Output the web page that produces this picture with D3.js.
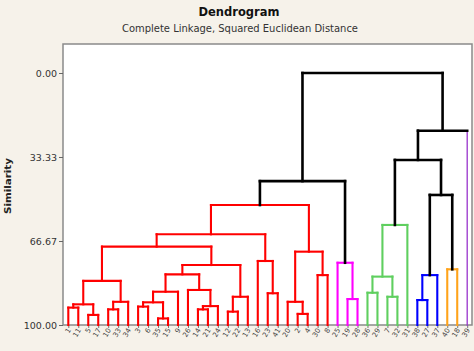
<!DOCTYPE html>
<html>
<head>
<meta charset="utf-8">
<script src="https://cdn.jsdelivr.net/npm/d3@7"></script>
<style>
  html, body { margin: 0; padding: 0; background: #f6f2ea; }
  svg { display: block; }
</style>
</head>
<body>
<div id="chart"></div>
<script>
/* ── data ─────────────────────────────────────────────────────────── */
const leafLabels = ['1','11','5','17','10','33','34','3','6','35',
                    '15','9','26','14','21','24','12','22','13','16',
                    '23','41','20','2','4','30','8','25','19','28',
                    '36','29','7','32','31','38','27','37','40','18','39'];

/* merges: [child a, child b, similarity]; ids < 41 are leaves, 41+k is merge k */
const merges = [
  [0, 1, 93.1], [2, 3, 96.0], [41, 42, 91.8], [4, 5, 93.8], [44, 6, 90.8],
  [43, 45, 82.5], [7, 8, 92.7], [9, 10, 97.4], [47, 48, 91.0], [49, 11, 86.8],
  [13, 14, 93.8], [51, 15, 92.5], [12, 52, 86.1], [50, 53, 79.9], [16, 17, 94.7],
  [55, 18, 88.8], [54, 56, 76.2], [46, 57, 68.9], [20, 21, 87.4], [19, 59, 74.6],
  [58, 60, 64.0], [23, 24, 95.6], [22, 62, 90.8], [25, 26, 80.2], [63, 64, 70.9],
  [61, 65, 52.4], [28, 29, 89.7], [27, 67, 75.3], [66, 68, 42.9], [30, 31, 87.2],
  [32, 33, 88.8], [70, 71, 80.8], [72, 34, 60.3], [35, 36, 90.1], [74, 37, 80.2],
  [38, 39, 77.9], [75, 76, 48.4], [73, 77, 34.5], [78, 40, 22.9], [69, 79, 0.0]
];

/* final clusters, in leaf order */
const clusterSizes  = [27, 3, 5, 3, 2, 1];
const clusterColors = ['#ff0000', '#ff00ff', '#5fcf5f', '#0000ff', '#ffa31a', '#9933cc'];

const yTicks = [0, 33.33, 66.67, 100];

/* ── layout ───────────────────────────────────────────────────────── */
const W = 474, H = 351;
const frame = { l: 63, t: 44, r: 472, b: 325 };

const svg = d3.select('#chart').append('svg')
  .attr('width', W).attr('height', H)
  .attr('font-family', 'DejaVu Sans, Verdana, sans-serif');

svg.append('rect').attr('width', W).attr('height', H).attr('fill', '#f6f2ea');

/* titles */
svg.append('text').attr('x', 239).attr('y', 16)
  .attr('text-anchor', 'middle').attr('font-weight', 'bold')
  .attr('font-size', 11.5).attr('fill', '#111').text('Dendrogram');
svg.append('text').attr('x', 240).attr('y', 32)
  .attr('text-anchor', 'middle').attr('font-size', 10.5)
  .attr('textLength', 236).attr('lengthAdjust', 'spacingAndGlyphs')
  .attr('fill', '#333').text('Complete Linkage, Squared Euclidean Distance');

/* plot frame */
svg.append('rect')
  .attr('x', frame.l).attr('y', frame.t)
  .attr('width', frame.r - frame.l).attr('height', frame.b - frame.t)
  .attr('fill', '#fff').attr('stroke', '#8a8a8a').attr('stroke-width', 1.5);

const n = leafLabels.length;
const x = d3.scalePoint().domain(d3.range(n)).range([68.3, 467.2]);
const y = d3.scaleLinear().domain([0, 100]).range([73, 325]);

/* y axis */
const yAxis = svg.append('g').attr('transform', `translate(${frame.l},0)`)
  .call(d3.axisLeft(y).tickValues(yTicks).tickFormat(d3.format('.2f')).tickSize(4).tickPadding(2));
yAxis.select('.domain').remove();
yAxis.selectAll('line').attr('stroke', '#666');
yAxis.selectAll('text').attr('font-size', 9.5).attr('fill', '#333')
  .attr('font-family', 'DejaVu Sans, Verdana, sans-serif');

svg.append('text')
  .attr('transform', 'translate(11,186) rotate(-90)')
  .attr('text-anchor', 'middle').attr('font-weight', 'bold')
  .attr('font-size', 9).attr('textLength', 56).attr('lengthAdjust', 'spacingAndGlyphs')
  .attr('fill', '#222').text('Similarity');

/* bottom ticks + leaf labels */
const xAxis = svg.append('g').attr('transform', `translate(0,${frame.b})`)
  .call(d3.axisBottom(x).tickSize(3).tickFormat(i => leafLabels[i]));
xAxis.select('.domain').remove();
xAxis.selectAll('line').attr('stroke', '#777');
xAxis.selectAll('text')
  .attr('font-size', 7).attr('fill', '#444')
  .attr('font-family', 'DejaVu Sans, Verdana, sans-serif')
  .attr('text-anchor', 'end')
  .attr('dy', 0).attr('y', 0)
  .attr('transform', 'translate(2.5,5) rotate(-60)');

/* ── dendrogram ───────────────────────────────────────────────────── */
/* cluster of each leaf */
const leafCluster = [];
clusterSizes.forEach((s, c) => { for (let i = 0; i < s; i++) leafCluster.push(c); });

const nodes = d3.range(n).map(i => ({ x: x(i), sim: 100, cluster: leafCluster[i], leaf: true }));
merges.forEach(([a, b, sim]) => {
  const A = nodes[a], B = nodes[b];
  nodes.push({
    a, b, sim,
    x: (A.x + B.x) / 2,
    cluster: A.cluster === B.cluster ? A.cluster : -1,
    leaf: false
  });
});

const links = svg.append('g').attr('fill', 'none').attr('stroke-linecap', 'square');
function colorOf(c) { return c < 0 ? '#000' : clusterColors[c]; }
function widthOf(c) { return c < 0 ? 2.6 : (c === 5 ? 1.3 : 2.1); }

nodes.filter(d => !d.leaf).forEach(d => {
  const yy = y(d.sim);
  [nodes[d.a], nodes[d.b]].forEach(ch => {
    /* singleton cluster keeps its colour even below a black merge */
    const c = d.cluster >= 0 ? d.cluster
            : (ch.leaf && clusterSizes[ch.cluster] === 1 ? ch.cluster : d.cluster);
    links.append('line')
      .attr('x1', ch.x).attr('x2', ch.x)
      .attr('y1', yy).attr('y2', y(ch.sim))
      .attr('stroke', colorOf(c)).attr('stroke-width', widthOf(c));
  });
  links.append('line')
    .attr('x1', nodes[d.a].x).attr('x2', nodes[d.b].x)
    .attr('y1', yy).attr('y2', yy)
    .attr('stroke', colorOf(d.cluster)).attr('stroke-width', widthOf(d.cluster));
});
</script>
</body>
</html>
